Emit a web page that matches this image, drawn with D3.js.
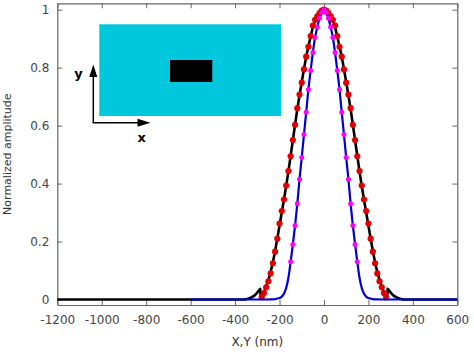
<!DOCTYPE html>
<html><head><meta charset="utf-8">
<script src="https://cdn.jsdelivr.net/npm/d3@7"></script>
<style>html,body{margin:0;padding:0;background:#fff;}svg{display:block;}</style>
</head><body>
<svg id="c" width="474" height="352"></svg>
<script>
// X tick labels and Y tick labels
const xTicks = [-1200, -1000, -800, -600, -400, -200, 0, 200, 400, 600];
const yTicks = [0, 0.2, 0.4, 0.6, 0.8, 1];

// Black curve (simulation)
const blackX = [-1200, -360, -345, -330, -315, -302, -292, -287, -284, -278, -270, -260, -250, -240, -230, -220, -210, -200, -190, -180, -170, -160, -150, -140, -130, -120, -110, -100, -90, -80, -70, -60, -50, -40, -30, -20, -10, 0,
  10, 20, 30, 40, 50, 60, 70, 80, 90, 100, 110, 120, 130, 140, 150, 160, 170, 180, 190, 200, 210, 220, 230, 240, 250, 260, 270, 278, 284, 287, 292, 302, 315, 330, 345, 360, 600];
const blackY = [0, 0, 0.002, 0.006, 0.012, 0.022, 0.032, 0.037, 0.004, 0.012, 0.025, 0.045, 0.068, 0.095, 0.128, 0.167, 0.21, 0.255, 0.3, 0.345, 0.392, 0.442, 0.495, 0.55, 0.603, 0.657, 0.705, 0.75, 0.795, 0.838, 0.873, 0.907, 0.94, 0.962, 0.978, 0.99, 0.998, 1,
  0.998, 0.99, 0.978, 0.962, 0.94, 0.907, 0.873, 0.838, 0.795, 0.75, 0.705, 0.657, 0.603, 0.55, 0.495, 0.442, 0.392, 0.345, 0.3, 0.255, 0.21, 0.167, 0.128, 0.095, 0.068, 0.045, 0.025, 0.012, 0.004, 0.037, 0.032, 0.022, 0.012, 0.006, 0.002, 0, 0];

// Red dots
const redX = [-280, -270, -260, -250, -240, -230, -220, -210, -200, -190, -180, -170, -160, -150, -140, -130, -120, -110, -100, -90, -80, -70, -60, -50, -40, -30, -20, -10, 0,
  10, 20, 30, 40, 50, 60, 70, 80, 90, 100, 110, 120, 130, 140, 150, 160, 170, 180, 190, 200, 210, 220, 230, 240, 250, 260, 270, 280];
const redY = [0.008, 0.022, 0.042, 0.063, 0.09, 0.125, 0.165, 0.21, 0.262, 0.305, 0.345, 0.393, 0.443, 0.494, 0.55, 0.603, 0.66, 0.707, 0.748, 0.794, 0.838, 0.872, 0.909, 0.945, 0.965, 0.977, 0.988, 0.997, 1,
  0.997, 0.988, 0.977, 0.965, 0.945, 0.909, 0.872, 0.838, 0.794, 0.748, 0.707, 0.66, 0.603, 0.55, 0.494, 0.443, 0.393, 0.345, 0.305, 0.262, 0.21, 0.165, 0.125, 0.09, 0.063, 0.042, 0.022, 0.008];

// Blue curve
const blueX = [-600, -260, -240, -220, -200, -190, -180, -170, -160, -150, -140, -130, -120, -110, -100, -90, -80, -70, -60, -50, -40, -30, -20, -10, 0,
  10, 20, 30, 40, 50, 60, 70, 80, 90, 100, 110, 120, 130, 140, 150, 160, 170, 180, 190, 200, 220, 240, 260, 600];
const blueY = [0, 0, 0.0005, 0.0015, 0.005, 0.01, 0.02, 0.04, 0.075, 0.13, 0.19, 0.255, 0.33, 0.415, 0.49, 0.569, 0.646, 0.725, 0.79, 0.852, 0.904, 0.94, 0.97, 0.99, 1,
  0.99, 0.97, 0.94, 0.904, 0.852, 0.79, 0.725, 0.646, 0.569, 0.49, 0.415, 0.33, 0.255, 0.19, 0.13, 0.075, 0.04, 0.02, 0.01, 0.005, 0.0015, 0.0005, 0, 0];

// Magenta dots
const magX = [-150, -140, -130, -120, -110, -100, -90, -80, -70, -60, -50, -40, -30, -20, -10, 0,
  10, 20, 30, 40, 50, 60, 70, 80, 90, 100, 110, 120, 130, 140, 150];
const magY = [0.13, 0.19, 0.255, 0.33, 0.415, 0.49, 0.569, 0.646, 0.725, 0.79, 0.852, 0.904, 0.94, 0.97, 0.99, 1,
  0.99, 0.97, 0.94, 0.904, 0.852, 0.79, 0.725, 0.646, 0.569, 0.49, 0.415, 0.33, 0.255, 0.19, 0.13];

const svg = d3.select("#c");
const L = 57.3, R = 457.3, T = 3.3, B = 305;
const x = d3.scaleLinear().domain([-1200, 600]).range([L, R]);
const y = d3.scaleLinear().domain([-0.019, 1.022]).range([B, T]);

const font = "DejaVu Sans, sans-serif";
const axisCol = "#666";

// Axes with inward ticks
const gB = svg.append("g").attr("transform", `translate(0,${B})`)
  .call(d3.axisBottom(x).tickValues(xTicks).tickSizeInner(-5).tickSizeOuter(0).tickPadding(10).tickFormat(d => String(d)));
const gT = svg.append("g").attr("transform", `translate(0,${T})`)
  .call(d3.axisTop(x).tickValues(xTicks).tickSizeInner(-5).tickSizeOuter(0).tickFormat(""));
const gL = svg.append("g").attr("transform", `translate(${L},0)`)
  .call(d3.axisLeft(y).tickValues(yTicks).tickSizeInner(-5).tickSizeOuter(0).tickPadding(8).tickFormat(d => d === 0 || d === 1 ? String(d) : d.toFixed(1)));
const gR = svg.append("g").attr("transform", `translate(${R},0)`)
  .call(d3.axisRight(y).tickValues(yTicks).tickSizeInner(-5).tickSizeOuter(0).tickFormat(""));
[gB, gT, gL, gR].forEach(g => {
  g.select(".domain").attr("stroke", axisCol).attr("stroke-width", 1.2);
  g.selectAll(".tick line").attr("stroke", axisCol).attr("stroke-width", 1);
  g.selectAll("text").attr("font-family", font).attr("font-size", 12).attr("fill", "#444");
});
gB.selectAll("text").attr("dy", "0.71em");

// Axis titles
svg.append("text").attr("x", (L + R) / 2).attr("y", 346).attr("text-anchor", "middle")
  .attr("font-family", font).attr("font-size", 12).attr("fill", "#333").text("X,Y (nm)");
svg.append("text").attr("transform", `translate(11,${(T + B) / 2}) rotate(-90)`).attr("text-anchor", "middle")
  .attr("font-family", font).attr("font-size", 11).attr("fill", "#333").text("Normalized amplitude");

// Inset
svg.append("rect").attr("x", 99.3).attr("y", 24.3).attr("width", 181.7).attr("height", 91.7).attr("fill", "#00c8dc");
svg.append("rect").attr("x", 170).attr("y", 60).attr("width", 42.3).attr("height", 22).attr("fill", "#000");
svg.append("line").attr("x1", 93.3).attr("y1", 122.7).attr("x2", 93.3).attr("y2", 75).attr("stroke", "#000").attr("stroke-width", 1.5);
svg.append("path").attr("d", "M93.3,64.5 L89.3,77 L97.3,77 Z").attr("fill", "#000");
svg.append("line").attr("x1", 92.6).attr("y1", 122.7).attr("x2", 140).attr("y2", 122.7).attr("stroke", "#000").attr("stroke-width", 1.5);
svg.append("path").attr("d", "M150.5,122.7 L137.5,118.7 L137.5,126.7 Z").attr("fill", "#000");
svg.append("text").attr("x", 78.5).attr("y", 77.5).attr("text-anchor", "middle")
  .attr("font-family", font).attr("font-size", 13).attr("font-weight", "bold").attr("fill", "#000").text("y");
svg.append("text").attr("x", 141.7).attr("y", 141.5).attr("text-anchor", "middle")
  .attr("font-family", font).attr("font-size", 13).attr("font-weight", "bold").attr("fill", "#000").text("x");

// Curves
const line = d3.line().x(d => x(d[0])).y(d => y(d[1]));
const blackData = blackX.map((v, i) => [v, blackY[i]]);
const blueData = blueX.map((v, i) => [v, blueY[i]]);
svg.append("path").attr("d", line(blackData)).attr("fill", "none").attr("stroke", "#000").attr("stroke-width", 2.6).attr("stroke-linejoin", "round");
svg.append("g").selectAll("circle").data(redX.map((v, i) => [v, redY[i]])).join("circle")
  .attr("cx", d => x(d[0])).attr("cy", d => y(d[1])).attr("r", 3.1).attr("fill", "#e00000");
svg.append("path").attr("d", line.curve(d3.curveMonotoneX)(blueData)).attr("fill", "none").attr("stroke", "#0000d0").attr("stroke-width", 2.2);
svg.append("g").selectAll("circle").data(magX.map((v, i) => [v, magY[i]])).join("circle")
  .attr("cx", d => x(d[0])).attr("cy", d => y(d[1])).attr("r", 2.5).attr("fill", "#ff00ff");
</script>
</body></html>
